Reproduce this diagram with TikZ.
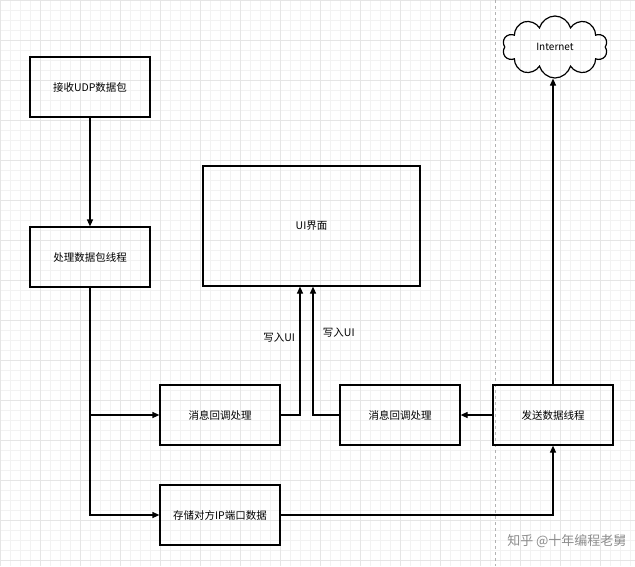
\documentclass[tikz,border=0pt]{standalone}
\usepackage{fontspec}
\setmainfont{Noto Sans CJK SC}
\usetikzlibrary{positioning,shapes.symbols,arrows.meta}
\tikzset{
  box/.style={draw,line width=1.2pt,minimum width=120pt,minimum height=60pt,inner sep=0pt,font=\fontsize{10.5}{12}\selectfont},
  link/.style={line width=1.2pt,-{Triangle[length=7pt,width=6pt]}},
  lbl/.style={font=\fontsize{10.5}{12}\selectfont}
}
\begin{document}
\begin{tikzpicture}[x=1pt,y=-1pt]
  \useasboundingbox (0,0) rectangle (635,566);
  \fill[white] (0,0) rectangle (635,566);
  \draw[black!5,step=10pt] (0,0) grid (635,566);
  \draw[black!10,step=40pt] (0,0) grid (635,566);
  \draw[black!30,dashed] (495,0) -- (495,566);

  \node[box] (recv) at (90,87) {接收UDP数据包};
  \node[box] (proc) at (90,257) {处理数据包线程};
  \node[box,minimum width=217pt,minimum height=120pt] (ui) at (311.5,226) {UI界面};
  \node[box] (cbl) at (220,415) {消息回调处理};
  \node[box] (cbr) at (400,415) {消息回调处理};
  \node[box] (send) at (553,415) {发送数据线程};
  \node[box] (store) at (220,515) {存储对方IP端口数据};
  \node[cloud,draw,line width=1.2pt,cloud puffs=10,aspect=2,minimum width=105pt,minimum height=62pt,font=\fontsize{10}{11}\selectfont] (net) at (555,47) {Internet};

  \coordinate (b1) at (90,415);
  \draw[link] (recv) -- (proc);
  \draw[link] (proc) |- (store);
  \draw[link] (b1) -- (cbl);
  \draw[link] (cbl.east) -| node[lbl,pos=0.80,left=1pt] {写入UI} (ui.south -| 300,0);
  \draw[link] (cbr.west) -| node[lbl,pos=0.82,right=6pt] {写入UI} (ui.south -| 313,0);
  \draw[link] (send) -- (cbr);
  \draw[link] (send) -- (net.south -| send);
  \draw[link] (store) -| (send);

  \node[text=black!45,font=\fontsize{13}{15}\selectfont,anchor=east] (mark) at (630,541) {知乎 @十年编程老舅};
\end{tikzpicture}
\end{document}
